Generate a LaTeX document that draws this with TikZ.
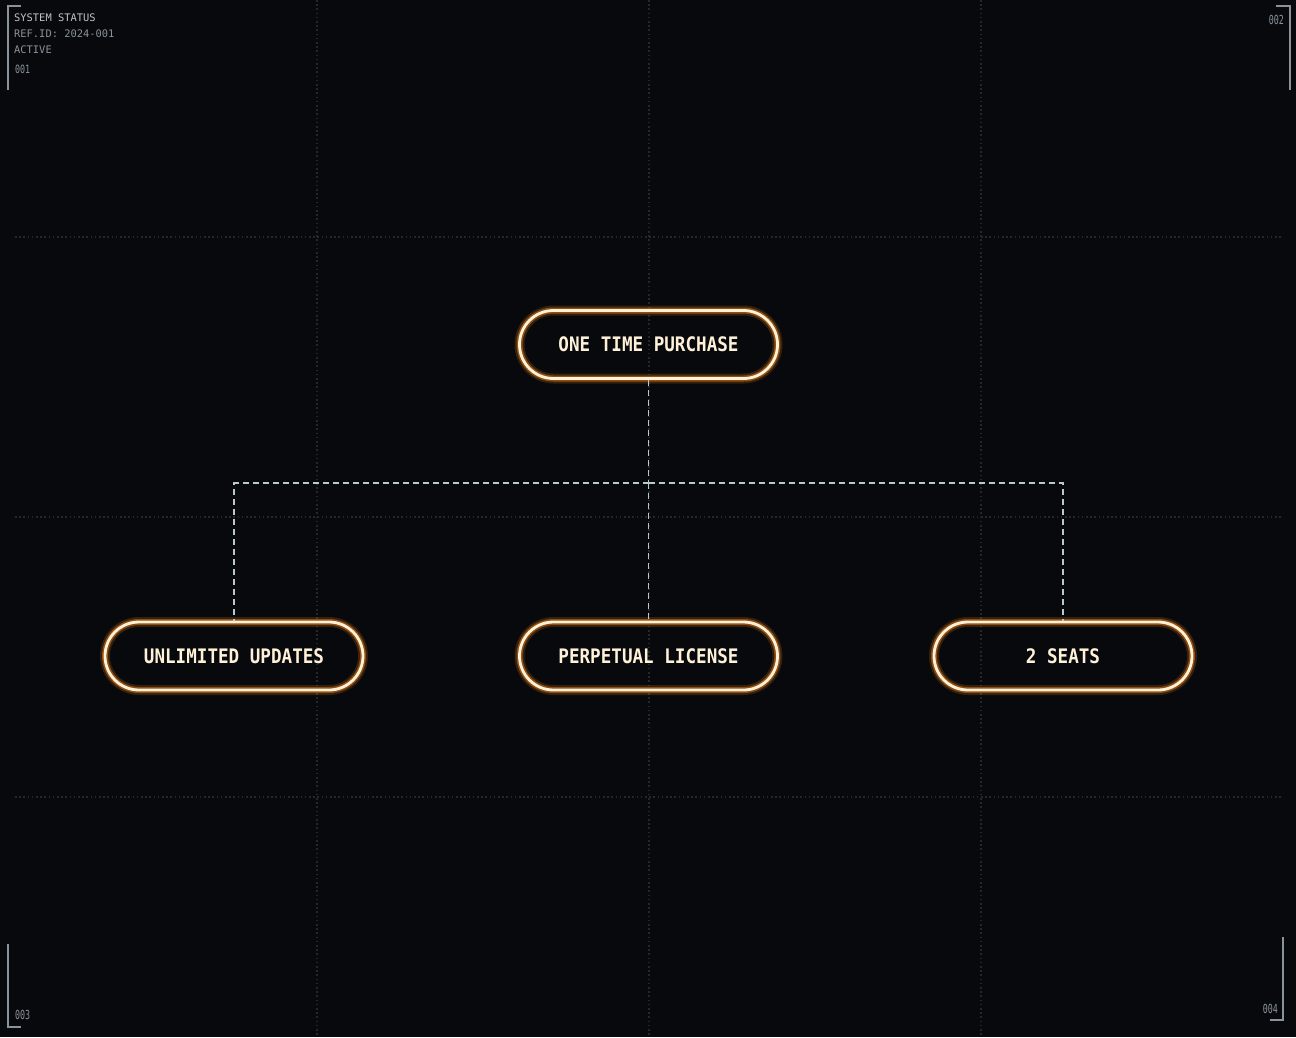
\documentclass[tikz,border=0pt]{standalone}
\usepackage{fontspec}
\newfontfamily\mono{DejaVu Sans Mono}
\definecolor{bg}{HTML}{07090C}
\definecolor{gridc}{HTML}{24282D}
\definecolor{cream}{HTML}{FFF1D8}
\definecolor{glow}{HTML}{FF8A1A}
\definecolor{conn}{HTML}{B9C9CD}
\definecolor{hud}{HTML}{8A939C}
\definecolor{hudlight}{HTML}{BCC4CC}
\tikzset{
  gridline/.style={draw=gridc, line width=1.3pt, dash pattern=on 1.6pt off 2.6pt},
  pill/.style={rectangle, rounded corners=34pt, minimum width=258pt, minimum height=68pt,
    draw=cream, line width=2.8pt, text=cream, inner sep=0pt,
    font=\mono\fontsize{20}{22}\selectfont\bfseries,
    preaction={draw=glow, line width=10pt, draw opacity=0.18},
    preaction={draw=glow, line width=6pt, draw opacity=0.45}},
  connector/.style={draw=conn, line width=1.6pt, dash pattern=on 6pt off 4pt},
  bracket/.style={draw=hud, line width=1.4pt},
  hudtext/.style={text=hud, inner sep=0pt, font=\mono\fontsize{10.4}{12}\selectfont},
}
\newcommand{\sqz}[1]{\scalebox{0.88}[1]{#1}}
\begin{document}
\begin{tikzpicture}[x=1pt, y=-1pt]
\fill[bg] (0,0) rectangle (1296,1037);
\useasboundingbox (0,0) rectangle (1296,1037);
% grid
\foreach \gx in {317,649,981} \draw[gridline] (\gx,0) -- (\gx,1037);
\foreach \gy in {237,517,797} \draw[gridline] (15,\gy) -- (1281,\gy);
% corner brackets
\draw[bracket] (21,6) -- (8,6) -- (8,90);
\draw[bracket] (1276,6) -- (1290,6) -- (1290,90);
\draw[bracket] (8,944) -- (8,1027) -- (21,1027);
\draw[bracket] (1283,937) -- (1283,1020) -- (1270,1020);
% hud texts
\node[hudtext, text=hudlight, anchor=base west] (t1) at (14,21) {SYSTEM STATUS};
\node[hudtext, anchor=base west] (t2) at (14,37) {REF.ID: 2024-001};
\node[hudtext, anchor=base west] (t3) at (14,53) {ACTIVE};
\node[hudtext, anchor=base west] (t4) at (15,73) {\scalebox{0.8}[1.1]{001}};
\node[hudtext, anchor=base east] (t5) at (1284,24) {\scalebox{0.8}[1.2]{002}};
\node[hudtext, anchor=base west] (t6) at (15,1019) {\scalebox{0.8}[1.2]{003}};
\node[hudtext, anchor=base east] (t7) at (1278,1013) {\scalebox{0.8}[1.2]{004}};
% nodes
\node[pill] (p) at (648.5,344.5) {\sqz{ONE TIME PURCHASE}};
\node[pill] (a) at (234,656) {\sqz{UNLIMITED UPDATES}};
\node[pill] (b) at (648.5,656) {\sqz{PERPETUAL LICENSE}};
\node[pill] (c) at (1063,656) {\sqz{2 SEATS}};
\coordinate (j) at (648.5,483);
% connectors
\draw[connector] (p.south) -- (j);
\draw[connector] (j) -| (a.north);
\draw[connector] (j) -| (c.north);
\draw[connector] (j) -- (b.north);
\end{tikzpicture}
\end{document}
